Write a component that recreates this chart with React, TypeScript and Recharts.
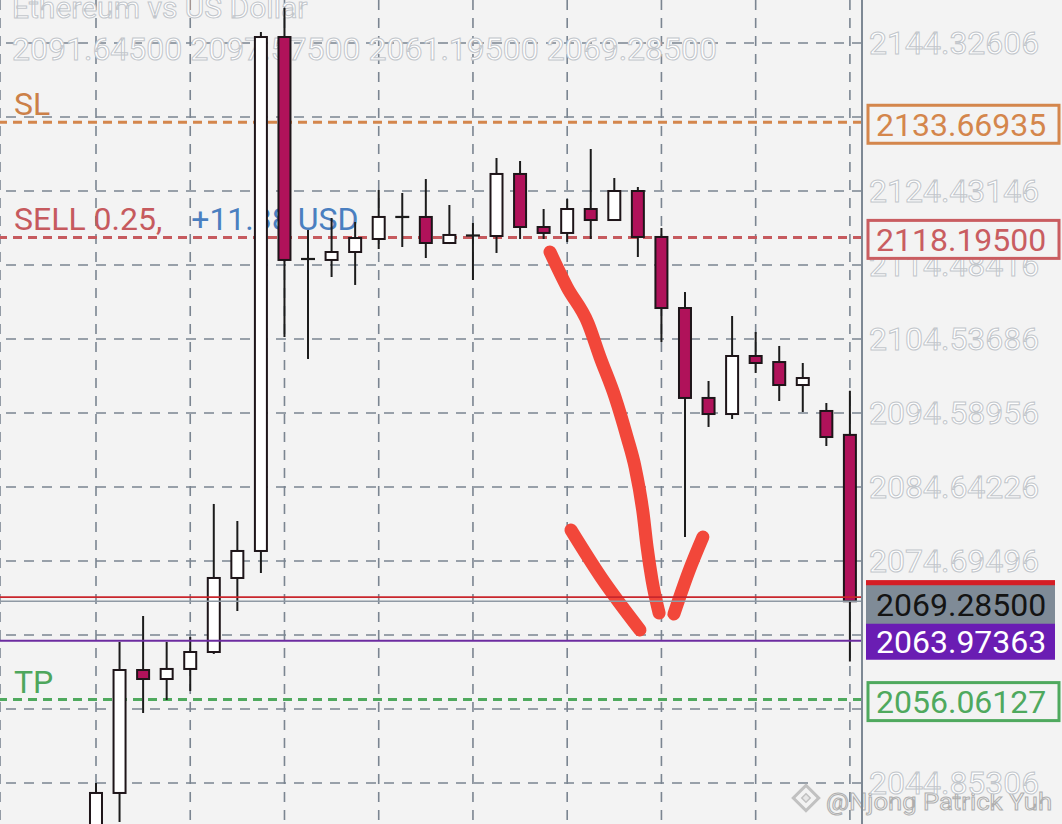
import React from 'react';
import {
  ComposedChart,
  Bar,
  Line,
  XAxis,
  YAxis,
  CartesianGrid,
  ReferenceLine,
  Customized,
} from 'recharts';

// ---------- data ----------
const candleIdx = [0, 1, 2, 3, 4, 5, 6, 7, 8, 9, 10, 11, 12, 13, 14, 15, 16, 17, 18, 19, 20, 21, 22, 23, 24, 25, 26, 27, 28, 29, 30, 31, 32];
const opens = [2037.0, 2043.51, 2060.04, 2058.83, 2060.18, 2062.46, 2072.41, 2076.04, 2145.13, 2115.29, 2115.16, 2116.23, 2117.98, 2120.94, 2120.94, 2117.44, 2118.45, 2118.38, 2126.72, 2119.59, 2118.79, 2122.01, 2120.53, 2124.43, 2118.25, 2108.7, 2096.61, 2094.45, 2102.25, 2101.44, 2098.35, 2094.86, 2091.645];
const highs = [2044.85, 2063.81, 2067.3, 2063.81, 2064.48, 2082.36, 2080.07, 2145.81, 2149.03, 2119.19, 2120.8, 2120.26, 2124.57, 2124.16, 2126.04, 2122.55, 2120.13, 2128.87, 2128.46, 2122.01, 2123.36, 2130.08, 2126.18, 2124.97, 2119.46, 2110.85, 2098.89, 2107.63, 2105.48, 2103.6, 2101.31, 2095.93, 2097.575];
const lows = [2036.0, 2039.61, 2054.26, 2056.01, 2057.22, 2062.2, 2067.97, 2073.08, 2104.81, 2101.85, 2112.87, 2111.8, 2116.63, 2116.9, 2115.42, 2117.3, 2112.47, 2116.1, 2117.98, 2117.98, 2117.58, 2117.98, 2120.4, 2115.56, 2104.13, 2077.92, 2092.71, 2093.78, 2099.97, 2096.2, 2094.72, 2090.15, 2061.195];
const closes = [2043.51, 2060.04, 2058.83, 2060.18, 2062.46, 2072.41, 2076.04, 2145.13, 2115.16, 2115.29, 2116.23, 2118.11, 2120.94, 2120.94, 2117.44, 2118.52, 2118.45, 2126.72, 2119.59, 2118.79, 2122.01, 2120.53, 2124.43, 2118.25, 2108.7, 2096.61, 2094.45, 2102.25, 2101.31, 2098.35, 2099.29, 2091.36, 2069.285];

const priceTicks = [2144.32606, 2134.37876, 2124.43146, 2114.48416, 2104.53686, 2094.58956, 2084.64226, 2074.69496, 2064.74766, 2054.80036, 2044.85306];
const gridCandles = [-4, 0, 4, 8, 12, 16, 20, 24, 28, 32];

const slPrice = 2133.66935;
const sellPrice = 2118.195;
const askPrice = 2069.84;
const bidPrice = 2069.285;
const purplePrice = 2063.97363;
const tpPrice = 2056.06127;

const titleText = 'Ethereum vs US Dollar';
const ohlcText = '2091.64500 2097.57500 2061.19500 2069.28500';
const watermarkText = '@Njong Patrick Yuh';

// hand-drawn arrow (candle index, price)
const shaftI = [19.27, 19.99, 20.88, 21.39, 22.03, 22.54, 22.88, 23.22, 23.39, 23.6, 23.9];
const shaftP = [2116.23, 2111.53, 2106.69, 2102.12, 2096.74, 2091.36, 2087.33, 2081.15, 2076.58, 2072.14, 2067.7];
const leftHeadI = [20.16, 21.43, 23.09];
const leftHeadP = [2078.86, 2072.54, 2065.42];
const rightHeadI = [24.53, 25.17, 25.76];
const rightHeadP = [2067.57, 2073.35, 2077.92];

const X_DOMAIN: [number, number] = [-4.0747, 32.513];
const Y_DOMAIN: [number, number] = [2039.339, 2150.106];

const candles = candleIdx.map((i, k) => ({
  i,
  open: opens[k],
  high: highs[k],
  low: lows[k],
  close: closes[k],
}));
const shaft = shaftI.map((i, k) => ({ i, p: shaftP[k] }));
const leftHead = leftHeadI.map((i, k) => ({ i, p: leftHeadP[k] }));
const rightHead = rightHeadI.map((i, k) => ({ i, p: rightHeadP[k] }));

// price boxes on the axis; a tick label lying fully under one of them is not drawn
const boxPrices = [slPrice, sellPrice, askPrice, bidPrice, purplePrice, tpPrice];
const visibleTicks = priceTicks.filter((t) => !boxPrices.some((b) => Math.abs(b - t) < 3));

// ---------- styles ----------
const FONT = 'Roboto, "Noto Sans", sans-serif';
const BG = '#f3f3f3';
const GRID = '#7b8591';
const OUT_FILL = '#ffffff';
const OUT_STROKE = '#c2c6cb';
const ORANGE = '#d4864c';
const RED = '#c65a5e';
const GREEN = '#4fa95e';
const BLUE = '#4a7fc0';
const BODY_W = 12;

const Candle = (props: any) => {
  const { x, y, width, height, payload } = props;
  if (x == null || y == null || !payload) return null;
  const top = Math.min(y, y + height);
  const h = Math.abs(height);
  const { open, close, high, low } = payload;
  const ratio = h / (high - low);
  const cx = x + (width || 0) / 2;
  const yO = top + (high - open) * ratio;
  const yC = top + (high - close) * ratio;
  const bTop = Math.min(yO, yC);
  const bH = Math.abs(yO - yC);
  const bull = close >= open;
  const bx = cx - BODY_W / 2;
  return (
    <g>
      <line x1={cx} x2={cx} y1={top} y2={top + h} stroke="#1b1b1b" strokeWidth={2} />
      {bH < 1.5 ? (
        <line x1={bx - 1} x2={bx + BODY_W + 1} y1={yO} y2={yO} stroke="#1b1b1b" strokeWidth={2.2} />
      ) : (
        <rect x={bx} y={bTop} width={BODY_W} height={bH} fill={bull ? '#ffffff' : '#b0125a'} stroke="#1e1519" strokeWidth={2} />
      )}
    </g>
  );
};

const tickLabel = (value: number) => (props: any) => {
  const vb = props.viewBox || {};
  const right = (vb.x || 0) + (vb.width || 0);
  return (
    <text x={right + 7} y={(vb.y || 0) + 11.5} textAnchor="start" fontFamily={FONT} fontSize={32} fill={OUT_FILL} stroke={OUT_STROKE} strokeWidth={1}>
      {value.toFixed(5)}
    </text>
  );
};

const leftLabel = (text: string, color: string) => (props: any) => {
  const vb = props.viewBox || {};
  return (
    <text x={(vb.x || 0) + 14} y={(vb.y || 0) - 7} fill={color} fontFamily={FONT} fontSize={32}>
      {text}
    </text>
  );
};

const sellLabel = (props: any) => {
  const vb = props.viewBox || {};
  return (
    <text x={(vb.x || 0) + 14} y={(vb.y || 0) - 7} fontFamily={FONT} fontSize={32}>
      <tspan fill={RED}>SELL 0.25, </tspan>
      <tspan fill={BLUE} dx={21}>+11.38 USD</tspan>
    </text>
  );
};

const outlineBox = (value: number, color: string) => (props: any) => {
  const vb = props.viewBox || {};
  const right = (vb.x || 0) + (vb.width || 0);
  const cy = vb.y || 0;
  return (
    <g>
      <rect x={right + 6} y={cy - 17} width={191} height={38} fill={BG} stroke={color} strokeWidth={3} />
      <text x={right + 14} y={cy + 13.5} fill={color} fontFamily={FONT} fontSize={32}>
        {value.toFixed(5)}
      </text>
    </g>
  );
};

const filledBox = (value: number, fill: string, textColor: string, up: number, down: number, showText: boolean) => (props: any) => {
  const vb = props.viewBox || {};
  const right = (vb.x || 0) + (vb.width || 0);
  const cy = vb.y || 0;
  const mid = cy + (down - up) / 2;
  return (
    <g>
      <rect x={right + 4} y={cy - up} width={189} height={up + down} fill={fill} />
      {showText && (
        <text x={right + 14} y={mid + 11.5} fill={textColor} fontFamily={FONT} fontSize={32}>
          {value.toFixed(5)}
        </text>
      )}
    </g>
  );
};

const Overlay = () => (
  <g>
    <text x={12} y={18} fontFamily={FONT} fontSize={30} fill={OUT_FILL} stroke={OUT_STROKE} strokeWidth={1}>
      {titleText}
    </text>
    <text x={12} y={60} fontFamily={FONT} fontSize={32} fill={OUT_FILL} stroke={OUT_STROKE} strokeWidth={1}>
      {ohlcText}
    </text>
    <g opacity={0.85}>
      <g transform="translate(806 798) rotate(45)">
        <rect x={-9} y={-9} width={18} height={18} fill="none" stroke="#b9b9b9" strokeWidth={3} />
        <rect x={-3} y={-3} width={6} height={6} fill="#e6e6e6" stroke="#b9b9b9" strokeWidth={1.5} />
      </g>
      <text x={826} y={810} fontFamily={FONT} fontSize={24.5} textLength={226} lengthAdjust="spacingAndGlyphs" fill="#f4f4f4" stroke="#a3a3a3" strokeWidth={1}>
        {watermarkText}
      </text>
    </g>
  </g>
);

export default function App() {
  return (
    <div style={{ position: 'fixed', left: 0, top: 0, width: 1062, height: 824, background: BG, overflow: 'hidden' }}>
      <ComposedChart width={1062} height={824} data={candles} margin={{ top: 0, right: 0, bottom: 0, left: 0 }}>
        <CartesianGrid horizontal={false} stroke={GRID} strokeWidth={1.6} strokeDasharray="10 8" />
        <XAxis type="number" dataKey="i" domain={X_DOMAIN} ticks={gridCandles} allowDataOverflow hide />
        <YAxis
          orientation="right"
          width={200}
          domain={Y_DOMAIN}
          ticks={priceTicks}
          interval={0}
          allowDataOverflow
          tickLine={false}
          tick={false}
          axisLine={{ stroke: '#7d8894', strokeWidth: 2 }}
        />
        {priceTicks.map((t) => (
          <ReferenceLine key={`grid-${t}`} y={t} zIndex={-90} stroke={GRID} strokeWidth={1.6} strokeDasharray="10 8" />
        ))}
        <ReferenceLine y={slPrice} zIndex={100} stroke={ORANGE} strokeWidth={3} strokeDasharray="9 6" label={leftLabel('SL', '#cc8048')} />
        <ReferenceLine y={sellPrice} zIndex={100} stroke={RED} strokeWidth={3} strokeDasharray="9 6" label={sellLabel} />
        <ReferenceLine y={tpPrice} zIndex={100} stroke={GREEN} strokeWidth={3} strokeDasharray="9 6" label={leftLabel('TP', '#4ea65c')} />
        <Bar dataKey={(d: any) => [d.low, d.high]} barSize={12} shape={<Candle />} isAnimationActive={false} />
        <ReferenceLine y={askPrice} zIndex={450} stroke="#c9262c" strokeWidth={1.6} />
        <ReferenceLine y={bidPrice} zIndex={450} stroke="#8f99a4" strokeWidth={1.6} />
        <ReferenceLine y={purplePrice} zIndex={450} stroke="#6c2ca0" strokeWidth={2.2} />
        {visibleTicks.map((t) => (
          <ReferenceLine key={`tick-${t}`} y={t} zIndex={1400} stroke="none" label={tickLabel(t)} />
        ))}
        <ReferenceLine y={slPrice} zIndex={1500} stroke="none" label={outlineBox(slPrice, ORANGE)} />
        <ReferenceLine y={sellPrice} zIndex={1500} stroke="none" label={outlineBox(sellPrice, '#c95d61')} />
        <ReferenceLine y={tpPrice} zIndex={1500} stroke="none" label={outlineBox(tpPrice, GREEN)} />
        <ReferenceLine y={askPrice} zIndex={1500} stroke="none" label={filledBox(askPrice, '#d51d25', '#ffffff', 17, 21, false)} />
        <ReferenceLine y={bidPrice} zIndex={1510} stroke="none" label={filledBox(bidPrice, '#7f8b97', '#141414', 16, 23, true)} />
        <ReferenceLine y={purplePrice} zIndex={1520} stroke="none" label={filledBox(purplePrice, '#6a1db3', '#ffffff', 17, 19, true)} />
        <Line data={shaft} dataKey="p" type="monotone" stroke="#f2473a" strokeWidth={13} strokeLinecap="round" strokeLinejoin="round" dot={false} activeDot={false} isAnimationActive={false} />
        <Line data={leftHead} dataKey="p" type="monotone" stroke="#f2473a" strokeWidth={13} strokeLinecap="round" strokeLinejoin="round" dot={false} activeDot={false} isAnimationActive={false} />
        <Line data={rightHead} dataKey="p" type="monotone" stroke="#f2473a" strokeWidth={13} strokeLinecap="round" strokeLinejoin="round" dot={false} activeDot={false} isAnimationActive={false} />
        <Customized component={Overlay} />
      </ComposedChart>
    </div>
  );
}
